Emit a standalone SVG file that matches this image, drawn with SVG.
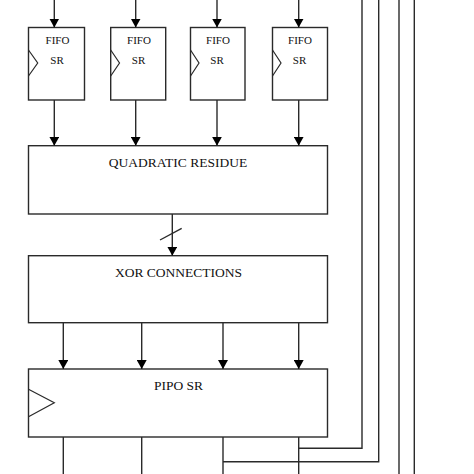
<svg xmlns="http://www.w3.org/2000/svg" width="474" height="474" viewBox="0 0 474 474">
<style>
.box{fill:#fff;stroke:#2a2a2a;stroke-width:1.4}
.ln{fill:none;stroke:#2a2a2a;stroke-width:1.4}
.clk{fill:none;stroke:#2a2a2a;stroke-width:1.2}
.t{font-family:"Liberation Serif","Times New Roman",serif;fill:#111;text-anchor:middle}
.big{font-size:13.5px}
.sm{font-size:11px}
</style>
<defs>
<marker id="ah" markerWidth="9" markerHeight="10" refX="9" refY="5" orient="auto" markerUnits="userSpaceOnUse">
<path d="M0,0 L9,5 L0,10 Z" fill="#000"/>
</marker>
</defs>
<rect width="474" height="474" fill="#fff"/>
<g id="fifo1"><rect class="box" x="28.5" y="27.5" width="56" height="72.5"/><path class="clk" d="M28.5,50 L37.7,63 L28.5,76"/><text class="t sm" x="57.5" y="43.5">FIFO</text><text class="t sm" x="57" y="64">SR</text></g>
<g id="fifo2"><rect class="box" x="110.7" y="27.5" width="55" height="72.5"/><path class="clk" d="M110.7,50 L119.5,63 L110.7,76"/><text class="t sm" x="139" y="43.5">FIFO</text><text class="t sm" x="138.5" y="64">SR</text></g>
<g id="fifo3"><rect class="box" x="190.5" y="27.5" width="54.5" height="72.5"/><path class="clk" d="M190.5,50 L199,63 L190.5,76"/><text class="t sm" x="218" y="43.5">FIFO</text><text class="t sm" x="217" y="64">SR</text></g>
<g id="fifo4"><rect class="box" x="272.5" y="27.5" width="55" height="72.5"/><path class="clk" d="M272.5,50 L281,63 L272.5,76"/><text class="t sm" x="300" y="43.5">FIFO</text><text class="t sm" x="299.5" y="64">SR</text></g>
<g id="qr"><rect class="box" x="28.5" y="145.7" width="299" height="68.3"/><text class="t big" x="178" y="166.5">QUADRATIC RESIDUE</text></g>
<g id="xor"><rect class="box" x="28.5" y="255.7" width="299" height="67"/><text class="t big" x="178.5" y="276.5">XOR CONNECTIONS</text></g>
<g id="pipo"><rect class="box" x="28.5" y="369" width="299" height="68"/><path class="clk" d="M28.5,389.3 L54.3,402.7 L28.5,416.7"/><text class="t big" x="178.5" y="390">PIPO SR</text></g>
<g id="connectors">
<path class="ln" marker-end="url(#ah)" d="M54.3,0 V27.5"/>
<path class="ln" marker-end="url(#ah)" d="M135.7,0 V27.5"/>
<path class="ln" marker-end="url(#ah)" d="M217,0 V27.5"/>
<path class="ln" marker-end="url(#ah)" d="M298.7,0 V27.5"/>
<path class="ln" marker-end="url(#ah)" d="M54.3,100 V145.7"/>
<path class="ln" marker-end="url(#ah)" d="M135.7,100 V145.7"/>
<path class="ln" marker-end="url(#ah)" d="M217,100 V145.7"/>
<path class="ln" marker-end="url(#ah)" d="M298.7,100 V145.7"/>
<path class="ln" marker-end="url(#ah)" d="M172.3,214 V255.7"/>
<path class="ln" d="M160,240 L181.7,228.3"/>
<path class="ln" marker-end="url(#ah)" d="M63.3,322.7 V369"/>
<path class="ln" marker-end="url(#ah)" d="M141.7,322.7 V369"/>
<path class="ln" marker-end="url(#ah)" d="M223,322.7 V369"/>
<path class="ln" marker-end="url(#ah)" d="M298.7,322.7 V369"/>
<path class="ln" d="M63.3,437 V474"/>
<path class="ln" d="M141.7,437 V474"/>
<path class="ln" d="M223,437 V474"/>
<path class="ln" d="M298.7,437 V474"/>
<path class="ln" d="M298.7,448.3 H362 V0"/>
<path class="ln" d="M223,461.7 H378.7 V0"/>
<path class="ln" d="M399,0 V474"/>
<path class="ln" d="M414.3,0 V474"/>
</g>
</svg>
